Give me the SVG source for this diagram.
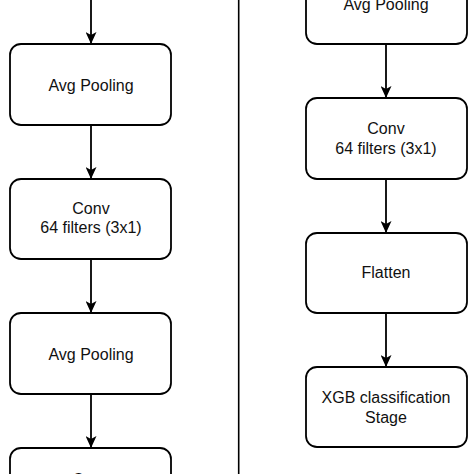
<svg xmlns="http://www.w3.org/2000/svg" width="474" height="474" viewBox="0 0 474 474">
<defs>
<style>
.box{fill:#fff;stroke:#000;stroke-width:1.8}
.lbl{font-family:"Liberation Sans",Arial,sans-serif;font-size:16px;fill:#111;text-anchor:middle}
.edge{stroke:#000;stroke-width:1.8;fill:none}
</style>
<marker id="arr" markerUnits="userSpaceOnUse" viewBox="0 0 12 11" refX="12" refY="5.5" markerWidth="12" markerHeight="11" orient="auto">
<path d="M0,0 L12,5.5 L0,11 L3,5.5 Z" fill="#000"/>
</marker>
</defs>
<rect width="474" height="474" fill="#fff"/>
<line x1="238.7" y1="0" x2="238.7" y2="474" stroke="#000" stroke-width="1.6"/>
<g id="connectors">
<line class="edge" x1="91" y1="0" x2="91" y2="44" marker-end="url(#arr)"/>
<line class="edge" x1="91" y1="125" x2="91" y2="179" marker-end="url(#arr)"/>
<line class="edge" x1="91" y1="259" x2="91" y2="313" marker-end="url(#arr)"/>
<line class="edge" x1="91" y1="394" x2="91" y2="448" marker-end="url(#arr)"/>
<line class="edge" x1="386" y1="44" x2="386" y2="98" marker-end="url(#arr)"/>
<line class="edge" x1="386" y1="179" x2="386" y2="233" marker-end="url(#arr)"/>
<line class="edge" x1="386" y1="313" x2="386" y2="367" marker-end="url(#arr)"/>
</g>
<g id="L1"><rect class="box" x="10" y="44" width="161" height="81" rx="11"/><text class="lbl" x="91" y="90.5">Avg Pooling</text></g>
<g id="L2"><rect class="box" x="10" y="179" width="161" height="80" rx="11"/><text class="lbl" x="91" y="214">Conv</text><text class="lbl" x="91" y="233">64 filters (3x1)</text></g>
<g id="L3"><rect class="box" x="10" y="313" width="161" height="81" rx="11"/><text class="lbl" x="91" y="359.5">Avg Pooling</text></g>
<g id="L4"><rect class="box" x="10" y="448" width="161" height="81" rx="11"/><text class="lbl" x="91" y="485">Conv</text></g>
<g id="R1"><rect class="box" x="306" y="-37" width="161" height="81" rx="11"/><text class="lbl" x="386" y="10">Avg Pooling</text></g>
<g id="R2"><rect class="box" x="306" y="98" width="161" height="81" rx="11"/><text class="lbl" x="386" y="134">Conv</text><text class="lbl" x="386" y="153.5">64 filters (3x1)</text></g>
<g id="R3"><rect class="box" x="306" y="233" width="161" height="80" rx="11"/><text class="lbl" x="386" y="278">Flatten</text></g>
<g id="R4"><rect class="box" x="306" y="367" width="161" height="80" rx="11"/><text class="lbl" x="386" y="403">XGB classification</text><text class="lbl" x="386" y="423">Stage</text></g>
</svg>
